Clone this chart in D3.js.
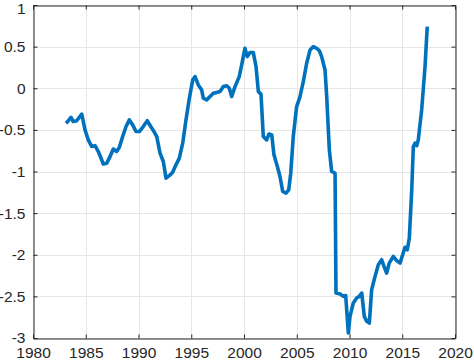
<!DOCTYPE html>
<html><head><meta charset="utf-8">
<script src="https://cdn.jsdelivr.net/npm/d3@7"></script>
<style>
html,body{margin:0;padding:0;background:#fff;}
svg{display:block;}
text{font-family:"Liberation Sans",Arial,Helvetica,sans-serif;}
</style></head>
<body><svg id="c" width="474" height="363"></svg>
<script>
const years = [1983.13,1983.35,1983.60,1983.82,1984.14,1984.62,1984.93,1985.24,1985.56,1985.88,1986.19,1986.51,1986.66,1986.99,1987.23,1987.61,1987.93,1988.18,1988.50,1988.82,1989.13,1989.45,1989.76,1990.08,1990.45,1990.83,1991.16,1991.47,1991.73,1992.04,1992.35,1992.61,1992.92,1993.24,1993.55,1993.87,1994.19,1994.50,1994.82,1995.14,1995.36,1995.67,1995.99,1996.14,1996.46,1996.78,1997.09,1997.41,1997.73,1998.04,1998.36,1998.61,1998.83,1999.15,1999.55,1999.78,2000.09,2000.31,2000.57,2000.88,2001.14,2001.36,2001.61,2001.83,2002.15,2002.37,2002.63,2002.84,2003.16,2003.41,2003.67,2003.98,2004.24,2004.43,2004.67,2004.99,2005.31,2005.62,2005.94,2006.26,2006.57,2006.89,2007.14,2007.36,2007.68,2007.84,2008.09,2008.31,2008.63,2008.72,2009.10,2009.41,2009.64,2009.89,2010.05,2010.36,2010.68,2010.93,2011.16,2011.40,2011.63,2011.88,2012.10,2012.42,2012.73,2013.05,2013.27,2013.52,2013.77,2014.15,2014.47,2014.79,2015.04,2015.26,2015.48,2015.67,2015.90,2016.05,2016.21,2016.37,2016.52,2016.84,2017.16,2017.37];
const values = [-0.42,-0.39,-0.35,-0.40,-0.39,-0.31,-0.50,-0.62,-0.70,-0.69,-0.76,-0.86,-0.91,-0.90,-0.84,-0.73,-0.76,-0.71,-0.58,-0.46,-0.38,-0.44,-0.52,-0.52,-0.46,-0.39,-0.46,-0.52,-0.58,-0.78,-0.88,-1.08,-1.05,-1.01,-0.92,-0.84,-0.66,-0.38,-0.12,0.10,0.14,0.04,-0.02,-0.12,-0.14,-0.10,-0.06,-0.05,-0.04,0.02,0.03,0.00,-0.10,0.02,0.14,0.28,0.48,0.38,0.43,0.43,0.26,-0.04,-0.07,-0.58,-0.62,-0.55,-0.56,-0.80,-0.94,-1.06,-1.24,-1.26,-1.22,-1.02,-0.58,-0.22,-0.10,0.08,0.30,0.46,0.50,0.48,0.45,0.38,0.22,-0.10,-0.74,-1.00,-1.02,-2.46,-2.47,-2.50,-2.49,-2.94,-2.74,-2.58,-2.52,-2.50,-2.46,-2.74,-2.80,-2.82,-2.42,-2.26,-2.12,-2.06,-2.14,-2.22,-2.10,-2.02,-2.07,-2.10,-2.00,-1.91,-1.94,-1.80,-1.22,-0.70,-0.66,-0.69,-0.62,-0.26,0.26,0.74];
const xTicks = [1980,1985,1990,1995,2000,2005,2010,2015,2020];
const yTicks = [-3,-2.5,-2,-1.5,-1,-0.5,0,0.5,1];

const L=33,T=5,R=455,B=338;
const svg=d3.select("#c");
const x=d3.scaleLinear().domain([1980,2020]).range([L,R]);
const y=d3.scaleLinear().domain([-3,1]).range([B,T]);
const axisCol="#262626";
// grid
svg.append("g").selectAll("line").data(xTicks).join("line")
  .attr("x1",d=>Math.round(x(d))+0.5).attr("x2",d=>Math.round(x(d))+0.5).attr("y1",T).attr("y2",B)
  .attr("stroke","#e6e6e6").attr("stroke-width",1);
svg.append("g").selectAll("line").data(yTicks).join("line")
  .attr("y1",d=>Math.round(y(d))+0.5).attr("y2",d=>Math.round(y(d))+0.5).attr("x1",L).attr("x2",R)
  .attr("stroke","#e6e6e6").attr("stroke-width",1);
// line
const data=years.map((yr,i)=>[yr,values[i]]);
svg.append("path").datum(data)
  .attr("d",d3.line().x(d=>x(d[0])).y(d=>y(d[1])))
  .attr("fill","none").attr("stroke","#0072BD").attr("stroke-width",3.6)
  .attr("stroke-linejoin","round").attr("stroke-linecap","butt");
// axes (inward ticks on all four sides)
const fs="15.5px";
const gb=svg.append("g").attr("transform",`translate(0,${B+0.5})`)
  .call(d3.axisBottom(x).tickValues(xTicks).tickFormat(d3.format("d")).tickSizeInner(-4).tickSizeOuter(0).tickPadding(8));
const gt=svg.append("g").attr("transform",`translate(0,${T+0.5})`)
  .call(d3.axisTop(x).tickValues(xTicks).tickFormat("").tickSizeInner(-4).tickSizeOuter(0));
const gl=svg.append("g").attr("transform",`translate(${L+0.5},0)`)
  .call(d3.axisLeft(y).tickValues(yTicks).tickFormat(d=>String(d)).tickSizeInner(-4).tickSizeOuter(0).tickPadding(8));
const gr=svg.append("g").attr("transform",`translate(${R+0.5},0)`)
  .call(d3.axisRight(y).tickValues(yTicks).tickFormat("").tickSizeInner(-4).tickSizeOuter(0));
[gb,gt,gl,gr].forEach(g=>{
  g.selectAll("path.domain").attr("stroke",axisCol).attr("stroke-width",1);
  g.selectAll(".tick line").attr("stroke",axisCol).attr("stroke-width",1);
  g.selectAll("text").attr("fill",axisCol).style("font-size",fs).style("font-family",'"Liberation Sans",Arial,sans-serif');
});
gb.selectAll("text").attr("dy","0.75em");
// keep the top label "1" inside the picture
gl.selectAll(".tick").filter(d=>d===1).select("text").attr("y",4);
</script></body></html>
